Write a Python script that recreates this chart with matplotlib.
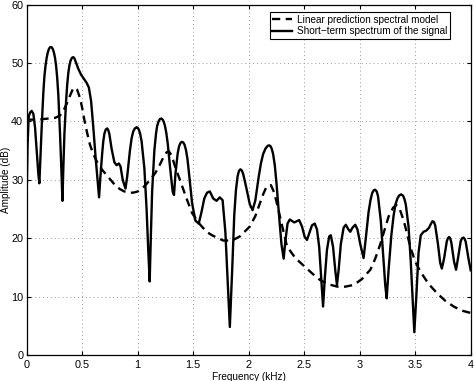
import numpy as np
import matplotlib
matplotlib.use("Agg")
import matplotlib.pyplot as plt

plt.rcParams['font.family'] = ['Liberation Sans', 'DejaVu Sans']

# ======================
# Data (freq in kHz, amplitude in dB)
# ======================
spec_f = [0.000, 0.008, 0.018, 0.030, 0.045, 0.060, 0.075, 0.090, 0.105, 0.114,
          0.122, 0.135, 0.150, 0.160, 0.170, 0.180, 0.190, 0.200, 0.210, 0.225,
          0.235, 0.245, 0.255, 0.265, 0.275, 0.285, 0.300, 0.312, 0.322, 0.330,
          0.340, 0.355, 0.365, 0.375, 0.385, 0.395, 0.408, 0.420, 0.430, 0.440,
          0.452, 0.465, 0.490, 0.515, 0.540, 0.560, 0.580, 0.600, 0.620, 0.640,
          0.652, 0.662, 0.680, 0.690, 0.700, 0.712, 0.725, 0.735, 0.745, 0.765,
          0.790, 0.810, 0.830, 0.845, 0.865, 0.890, 0.905, 0.930, 0.945, 0.960,
          0.975, 0.990, 1.000, 1.010, 1.022, 1.035, 1.060, 1.080, 1.095, 1.108,
          1.118, 1.130, 1.150, 1.165, 1.175, 1.188, 1.200, 1.212, 1.225, 1.235,
          1.245, 1.257, 1.270, 1.295, 1.315, 1.327, 1.340, 1.360, 1.372, 1.385,
          1.397, 1.410, 1.422, 1.435, 1.448, 1.460, 1.490, 1.520, 1.550, 1.575,
          1.600, 1.625, 1.650, 1.680, 1.710, 1.740, 1.765, 1.790, 1.810, 1.830,
          1.850, 1.870, 1.885, 1.900, 1.912, 1.925, 1.938, 1.950, 1.965, 1.980,
          2.010, 2.035, 2.060, 2.090, 2.110, 2.130, 2.150, 2.170, 2.183, 2.195,
          2.208, 2.220, 2.235, 2.250, 2.275, 2.295, 2.315, 2.330, 2.350, 2.370,
          2.410, 2.455, 2.480, 2.505, 2.525, 2.545, 2.570, 2.595, 2.615, 2.635,
          2.655, 2.670, 2.685, 2.705, 2.725, 2.740, 2.760, 2.780, 2.795, 2.810,
          2.830, 2.855, 2.875, 2.895, 2.915, 2.935, 2.960, 2.980, 3.005, 3.035,
          3.055, 3.080, 3.098, 3.112, 3.126, 3.140, 3.153, 3.165, 3.190, 3.215,
          3.230, 3.243, 3.260, 3.285, 3.305, 3.322, 3.340, 3.355, 3.372, 3.390,
          3.403, 3.415, 3.440, 3.460, 3.478, 3.492, 3.510, 3.530, 3.550, 3.575,
          3.600, 3.625, 3.640, 3.655, 3.668, 3.680, 3.705, 3.725, 3.740, 3.760,
          3.785, 3.795, 3.805, 3.815, 3.825, 3.850, 3.868, 3.885, 3.910, 3.923,
          3.935, 3.945, 3.955, 3.980, 4.000]
spec_db = [27.5, 36.0, 40.8, 41.5, 41.8, 41.3, 39.0, 35.0, 31.0, 29.4,
           33.0, 39.0, 45.0, 47.8, 49.6, 50.9, 51.8, 52.4, 52.7, 52.7,
           52.4, 51.8, 50.9, 49.5, 47.4, 44.5, 38.0, 32.0, 26.4, 32.0,
           38.0, 43.5, 46.3, 48.3, 49.6, 50.4, 50.9, 51.0, 50.8, 50.3,
           49.7, 49.0, 48.0, 47.3, 46.6, 45.8, 43.5, 39.0, 34.0, 29.5,
           27.0, 30.0, 34.5, 36.6, 37.9, 38.6, 38.8, 38.5, 37.8, 35.3,
           33.0, 32.5, 32.8, 32.3, 30.0, 28.5, 30.5, 35.0, 37.1, 38.3,
           38.8, 39.0, 38.9, 38.6, 37.9, 36.6, 32.0, 25.0, 18.0, 12.6,
           20.0, 28.0, 35.0, 37.9, 39.2, 40.0, 40.4, 40.5, 40.3, 39.9,
           39.3, 38.1, 36.3, 31.5, 28.0, 27.4, 31.0, 34.5, 35.7, 36.3,
           36.5, 36.4, 36.0, 35.1, 33.6, 31.5, 26.0, 23.0, 22.5, 24.5,
           26.8, 27.8, 28.0, 26.8, 26.4, 27.0, 26.5, 21.0, 13.0, 4.8,
           14.0, 24.0, 28.2, 30.6, 31.5, 31.8, 31.6, 31.0, 29.8, 28.5,
           25.8, 24.8, 26.5, 30.5, 32.8, 34.4, 35.3, 35.8, 35.9, 35.8,
           35.3, 34.4, 32.5, 29.5, 23.5, 19.0, 16.5, 19.5, 22.5, 23.2,
           22.7, 23.1, 22.0, 20.2, 19.7, 20.8, 22.2, 22.5, 21.5, 18.5,
           12.5, 8.3, 13.0, 18.0, 20.3, 20.5, 18.5, 14.5, 12.0, 14.5,
           19.0, 21.8, 22.3, 21.6, 21.1, 21.8, 22.3, 21.5, 19.0, 16.6,
           20.0, 24.5, 26.6, 27.7, 28.2, 28.3, 28.0, 27.2, 23.0, 16.0,
           12.0, 9.7, 14.5, 20.5, 23.8, 25.8, 26.8, 27.3, 27.5, 27.3,
           26.7, 25.8, 22.0, 16.0, 9.0, 3.9, 10.0, 17.5, 20.5, 21.1,
           21.3, 21.8, 22.4, 22.9, 22.8, 22.2, 19.0, 15.8, 14.8, 16.5,
           19.5, 20.0, 20.2, 20.0, 19.3, 16.0, 14.6, 16.5, 19.5, 20.0,
           20.1, 19.9, 19.4, 16.5, 14.5]

lpc_f = [0.000, 0.050, 0.100, 0.150, 0.200, 0.255, 0.300, 0.330, 0.360, 0.390,
         0.415, 0.435, 0.455, 0.480, 0.500, 0.520, 0.545, 0.570, 0.600, 0.640,
         0.680, 0.720, 0.760, 0.800, 0.840, 0.880, 0.920, 0.960, 1.000, 1.040,
         1.080, 1.120, 1.160, 1.200, 1.235, 1.260, 1.280, 1.305, 1.336, 1.380,
         1.440, 1.490, 1.550, 1.620, 1.670, 1.770, 1.850, 1.920, 2.010, 2.060,
         2.090, 2.130, 2.160, 2.200, 2.230, 2.260, 2.300, 2.345, 2.420, 2.495,
         2.570, 2.645, 2.720, 2.800, 2.870, 2.946, 3.020, 3.096, 3.140, 3.186,
         3.225, 3.260, 3.300, 3.330, 3.360, 3.397, 3.430, 3.456, 3.500, 3.546,
         3.620, 3.696, 3.770, 3.847, 3.920, 4.000]
lpc_db = [40.3, 40.3, 40.3, 40.4, 40.5, 40.6, 41.0, 41.8, 43.0, 44.4,
          45.5, 45.8, 45.4, 44.0, 42.3, 40.2, 38.0, 36.0, 34.4, 32.8,
          31.7, 30.8, 29.9, 29.0, 28.4, 28.0, 27.8, 27.8, 28.0, 28.5,
          29.3, 30.2, 31.2, 32.6, 34.0, 34.7, 34.9, 34.2, 32.3, 30.0,
          26.8, 24.3, 22.6, 21.1, 20.5, 19.6, 19.6, 20.3, 22.0, 23.8,
          25.4, 27.5, 28.8, 29.1, 27.8, 25.5, 22.2, 18.6, 16.6, 15.3,
          14.0, 12.8, 12.1, 11.7, 11.7, 12.0, 13.0, 14.6, 16.5, 19.0,
          21.5, 23.7, 25.2, 25.7, 25.0, 23.0, 20.5, 18.5, 16.0, 14.3,
          12.2, 10.6, 9.3, 8.3, 7.6, 7.2]

x_ticks = [0, 0.5, 1, 1.5, 2, 2.5, 3, 3.5, 4]
x_ticklabels = ['0', '0.5', '1', '1.5', '2', '2.5', '3', '3.5', '4']
y_ticks = [0, 10, 20, 30, 40, 50, 60]

# ======================
# Figure
# ======================
fig = plt.figure(figsize=(4.74, 3.81), dpi=100)
ax = fig.add_axes([26.7 / 474, 26 / 381, 444 / 474, 350.4 / 381])

ax.plot(lpc_f, lpc_db, color='black', lw=1.7, linestyle=(0, (3.5, 2.3)),
        label='Linear prediction spectral model')
ax.plot(spec_f, spec_db, color='black', lw=1.7,
        label='Short\u2212term spectrum of the signal')

ax.set_xlim(0, 4)
ax.set_ylim(0, 60)
ax.set_xticks(x_ticks)
ax.set_xticklabels(x_ticklabels)
ax.set_yticks(y_ticks)
ax.grid(True, linestyle=(0, (1, 3)), color='0.6', linewidth=0.7)
ax.tick_params(direction='in', length=3, width=0.8, top=True, right=True,
               labelsize=7.8)
ax.tick_params(axis='x', pad=3.5)
ax.tick_params(axis='y', pad=2.5)
for s in ax.spines.values():
    s.set_linewidth(0.9)

ax.set_xlabel('Frequency (kHz)', fontsize=7.2)
ax.set_ylabel('Amplitude (dB)', fontsize=7.2)
ax.xaxis.set_label_coords(0.5, -0.048)
ax.yaxis.set_label_coords(-0.036, 0.5)

leg = ax.legend(loc='upper right', bbox_to_anchor=(0.954, 0.978),
                borderaxespad=0, fontsize=7.2, handlelength=2.0,
                handletextpad=0.5, borderpad=0.25, labelspacing=0.15,
                fancybox=False, framealpha=1)
leg.get_frame().set_edgecolor('black')
leg.get_frame().set_linewidth(0.8)

fig.savefig('out.png', dpi=100)
